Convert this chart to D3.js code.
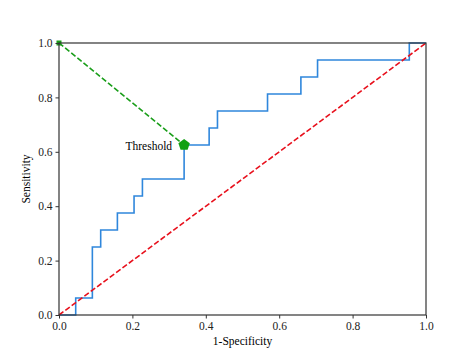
<!DOCTYPE html>
<html><head><meta charset="utf-8">
<script src="https://cdn.jsdelivr.net/npm/d3@7"></script>
<style>body{margin:0;background:#fff}svg{display:block}</style>
</head><body>
<script>
// ROC step points (1-Specificity, Sensitivity)
const fpr = [0, 0.0455, 0.0455, 0.0909, 0.0909, 0.1136, 0.1136, 0.1591, 0.1591, 0.2045, 0.2045, 0.2273, 0.2273, 0.3409, 0.3409, 0.4091, 0.4091, 0.4318, 0.4318, 0.5682, 0.5682, 0.6591, 0.6591, 0.7045, 0.7045, 0.9545, 0.9545, 1.0];
const tpr = [0, 0, 0.0625, 0.0625, 0.25, 0.25, 0.3125, 0.3125, 0.375, 0.375, 0.4375, 0.4375, 0.5, 0.5, 0.625, 0.625, 0.6875, 0.6875, 0.75, 0.75, 0.8125, 0.8125, 0.875, 0.875, 0.9375, 0.9375, 1.0, 1.0];
const diagX = [0, 1];
const diagY = [0, 1];
const thrLineX = [0, 0.3409];
const thrLineY = [1, 0.625];
const thresholdX = 0.3409, thresholdY = 0.625;
const thresholdLabel = "Threshold";
const ticks = [0, 0.2, 0.4, 0.6, 0.8, 1.0];
const xLabel = "1-Specificity", yLabel = "Sensitivity";

const W = 474, H = 355;
const m = {l: 59, r: 48, t: 43, b: 40};
const svg = d3.select("body").append("svg").attr("width", W).attr("height", H);
const x = d3.scaleLinear().domain([0, 1]).range([m.l, W - m.r]);
const y = d3.scaleLinear().domain([0, 1]).range([H - m.b, m.t]);
const font = "'Liberation Serif', serif";
const fs = 11.5;

const line = d3.line().x(d => x(d[0])).y(d => y(d[1]));

// ROC curve
svg.append("path").datum(d3.zip(fpr, tpr)).attr("d", line)
  .attr("fill", "none").attr("stroke", "#2f87dc").attr("stroke-width", 1.6);
// diagonal
svg.append("path").datum(d3.zip(diagX, diagY)).attr("d", line)
  .attr("fill", "none").attr("stroke", "#e8101c").attr("stroke-width", 1.6)
  .attr("stroke-dasharray", "5.5,2.4");
// threshold line
svg.append("path").datum(d3.zip(thrLineX, thrLineY)).attr("d", line)
  .attr("fill", "none").attr("stroke", "#1a9e1a").attr("stroke-width", 1.6)
  .attr("stroke-dasharray", "5.5,2.4");
// marker at (0,1)
svg.append("rect").attr("x", x(thrLineX[0]) - 2.5).attr("y", y(thrLineY[0]) - 2.5)
  .attr("width", 5).attr("height", 5).attr("fill", "#1a9e1a");
// pentagon
svg.append("path")
  .attr("transform", `translate(${x(thresholdX)},${y(thresholdY)})`)
  .attr("d", () => {
    const r = 6; const pts = [];
    for (let i = 0; i < 5; i++) { const a = -Math.PI/2 + i * 2*Math.PI/5; pts.push([r*Math.cos(a), r*Math.sin(a)]); }
    return "M" + pts.map(p => p.join(",")).join("L") + "Z";
  })
  .attr("fill", "#12a012");
svg.append("text").attr("x", x(thresholdX) - 12).attr("y", y(thresholdY) + 5)
  .attr("text-anchor", "end").attr("font-family", font).attr("font-size", fs).text(thresholdLabel);

// frame
svg.append("rect").attr("x", x(0)).attr("y", y(1)).attr("width", x(1) - x(0)).attr("height", y(0) - y(1))
  .attr("fill", "none").attr("stroke", "#333").attr("stroke-width", 1.2);

const fmt = d3.format(".1f");
const xa = svg.append("g").attr("transform", `translate(0,${y(0)})`)
  .call(d3.axisBottom(x).tickValues(ticks).tickFormat(fmt).tickSize(3.5).tickPadding(3));
const ya = svg.append("g").attr("transform", `translate(${x(0)},0)`)
  .call(d3.axisLeft(y).tickValues(ticks).tickFormat(fmt).tickSize(3.5).tickPadding(3));
[xa, ya].forEach(a => {
  a.select(".domain").remove();
  a.selectAll("line").attr("stroke", "#333");
  a.selectAll("text").attr("font-family", font).attr("font-size", fs).attr("fill", "#222");
});

svg.append("text").attr("x", (x(0) + x(1)) / 2).attr("y", H - 10)
  .attr("text-anchor", "middle").attr("font-family", font).attr("font-size", fs).text(xLabel);
svg.append("text").attr("transform", `translate(30,${(y(0) + y(1)) / 2}) rotate(-90)`)
  .attr("text-anchor", "middle").attr("font-family", font).attr("font-size", fs).text(yLabel);
</script>
</body></html>
